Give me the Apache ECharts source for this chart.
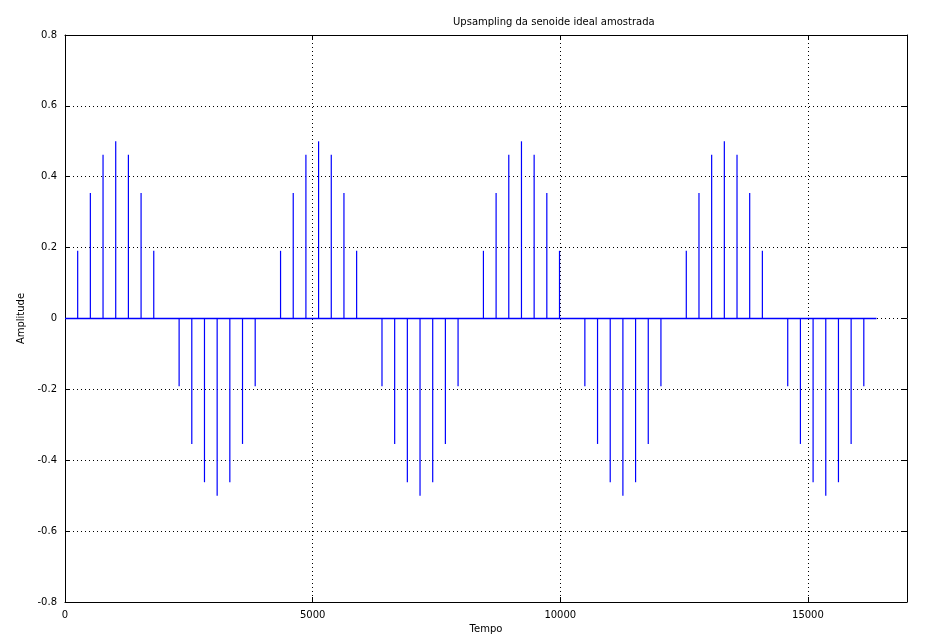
<!DOCTYPE html><html><head><meta charset="utf-8"><script src="https://cdn.jsdelivr.net/npm/echarts@6/dist/echarts.min.js"></script></head><body style="margin:0;background:#fff"><div id="c" style="width:938px;height:640px"></div><script>
const step = 256;
const values = [0,0.191,0.354,0.462,0.5,0.462,0.354,0.191,0,-0.191,-0.354,-0.462,-0.5,-0.462,-0.354,-0.191,
0,0.191,0.354,0.462,0.5,0.462,0.354,0.191,0,-0.191,-0.354,-0.462,-0.5,-0.462,-0.354,-0.191,
0,0.191,0.354,0.462,0.5,0.462,0.354,0.191,0,-0.191,-0.354,-0.462,-0.5,-0.462,-0.354,-0.191,
0,0.191,0.354,0.462,0.5,0.462,0.354,0.191,0,-0.191,-0.354,-0.462,-0.5,-0.462,-0.354,-0.191,0];
const xTicks = [0,5000,10000,15000];
const yTicks = [-0.8,-0.6,-0.4,-0.2,0,0.2,0.4,0.6,0.8];
const stems = values.map((v,i)=>[i*step,v]);
const base = [[0,0],[(values.length-1)*step,0]];
const font = {fontFamily:'DejaVu Sans',fontSize:10,color:'#000'};
const axCommon = {axisLine:{show:true,onZero:false,lineStyle:{color:'#000'}},axisTick:{inside:true,length:5,lineStyle:{color:'#000'}}};
const grid = {type:[1,3],color:'#000',width:1};
const chart = echarts.init(document.getElementById('c'));
chart.setOption({
  animation:false,
  title:{text:'Upsampling da senoide ideal amostrada',left:448,top:12,textStyle:{fontFamily:'DejaVu Sans',fontSize:10,fontWeight:'normal',color:'#000'}},
  grid:{left:65,right:31,top:35,bottom:38},
  xAxis:[{type:'value',min:0,max:17000,interval:5000,name:'Tempo',nameLocation:'middle',nameGap:8,nameTextStyle:font,
    axisLabel:Object.assign({formatter:v=>xTicks.includes(v)?String(v):''},font),splitLine:{show:true,lineStyle:grid},...axCommon},
    {type:'value',position:'top',min:0,max:17000,interval:5000,axisLabel:{show:false},splitLine:{show:false},...axCommon}],
  yAxis:[{type:'value',min:-0.8,max:0.8,interval:0.2,name:'Amplitude',nameLocation:'middle',nameGap:26,nameTextStyle:font,
    axisLabel:Object.assign({formatter:v=>{const t=yTicks.find(k=>Math.abs(k-v)<1e-6);return t===undefined?'':(Math.abs(t)<1e-9?'0':String(t));}},font),
    splitLine:{show:true,lineStyle:grid},...axCommon},
    {type:'value',position:'right',min:-0.8,max:0.8,interval:0.2,axisLabel:{show:false},splitLine:{show:false},...axCommon}],
  series:[
    {type:'line',data:base,symbol:'none',lineStyle:{color:'#0000ff',width:1.5},z:3},
    {type:'bar',data:stems,barWidth:1.2,itemStyle:{color:'#0000ff'},z:4}
  ]
});
</script></body></html>
